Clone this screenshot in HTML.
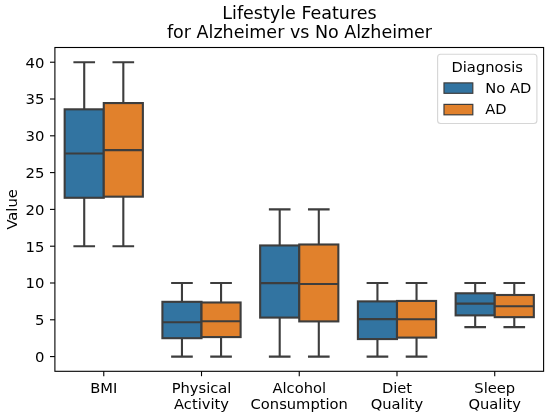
<!DOCTYPE html>
<html><head><meta charset="utf-8"><title>Lifestyle Features</title>
<style>html,body{margin:0;padding:0;background:#fff}svg{display:block}text{font-family:"DejaVu Sans","Liberation Sans",sans-serif;fill:#000}</style></head><body>
<svg xmlns="http://www.w3.org/2000/svg" width="550" height="418" viewBox="0 0 550 418">
<rect width="550" height="418" fill="#fff"/>
<g stroke="#3d3d3d" stroke-width="2.1" stroke-linecap="square" fill="none">
<rect x="64.67" y="109.32" width="39.10" height="88.46" fill="#3274a1"/>
<path d="M84.22 109.32V62.22M84.22 197.77V246.20M64.67 153.47H103.77" stroke-linecap="butt"/>
<path d="M74.45 62.22H94.00M74.45 246.20H94.00"/>
</g>
<g stroke="#3d3d3d" stroke-width="2.1" stroke-linecap="square" fill="none">
<rect x="103.77" y="103.06" width="39.10" height="93.61" fill="#e1812c"/>
<path d="M123.32 103.06V62.22M123.32 196.67V246.20M103.77 150.09H142.87" stroke-linecap="butt"/>
<path d="M113.54 62.22H133.09M113.54 246.20H133.09"/>
</g>
<g stroke="#3d3d3d" stroke-width="2.1" stroke-linecap="square" fill="none">
<rect x="162.41" y="301.83" width="39.10" height="36.35" fill="#3274a1"/>
<path d="M181.96 301.83V282.99M181.96 338.18V356.58M162.41 322.21H201.51" stroke-linecap="butt"/>
<path d="M172.19 282.99H191.74M172.19 356.58H191.74"/>
</g>
<g stroke="#3d3d3d" stroke-width="2.1" stroke-linecap="square" fill="none">
<rect x="201.51" y="302.49" width="39.10" height="34.59" fill="#e1812c"/>
<path d="M221.06 302.49V282.99M221.06 337.08V356.58M201.51 321.26H240.61" stroke-linecap="butt"/>
<path d="M211.28 282.99H230.83M211.28 356.58H230.83"/>
</g>
<g stroke="#3d3d3d" stroke-width="2.1" stroke-linecap="square" fill="none">
<rect x="260.15" y="245.46" width="39.10" height="72.12" fill="#3274a1"/>
<path d="M279.70 245.46V209.40M279.70 317.58V356.58M260.15 283.14H299.25" stroke-linecap="butt"/>
<path d="M269.93 209.40H289.48M269.93 356.58H289.48"/>
</g>
<g stroke="#3d3d3d" stroke-width="2.1" stroke-linecap="square" fill="none">
<rect x="299.25" y="244.50" width="39.10" height="76.90" fill="#e1812c"/>
<path d="M318.80 244.50V209.40M318.80 321.41V356.58M299.25 284.02H338.35" stroke-linecap="butt"/>
<path d="M309.02 209.40H328.57M309.02 356.58H328.57"/>
</g>
<g stroke="#3d3d3d" stroke-width="2.1" stroke-linecap="square" fill="none">
<rect x="357.89" y="301.39" width="39.10" height="37.68" fill="#3274a1"/>
<path d="M377.44 301.39V282.99M377.44 339.07V356.58M357.89 319.12H396.99" stroke-linecap="butt"/>
<path d="M367.67 282.99H387.22M367.67 356.58H387.22"/>
</g>
<g stroke="#3d3d3d" stroke-width="2.1" stroke-linecap="square" fill="none">
<rect x="396.99" y="300.95" width="39.10" height="36.65" fill="#e1812c"/>
<path d="M416.54 300.95V282.99M416.54 337.60V356.58M396.99 319.27H436.09" stroke-linecap="butt"/>
<path d="M406.76 282.99H426.31M406.76 356.58H426.31"/>
</g>
<g stroke="#3d3d3d" stroke-width="2.1" stroke-linecap="square" fill="none">
<rect x="455.63" y="293.29" width="39.10" height="22.08" fill="#3274a1"/>
<path d="M475.18 293.29V282.99M475.18 315.37V327.15M455.63 303.60H494.73" stroke-linecap="butt"/>
<path d="M465.41 282.99H484.96M465.41 327.15H484.96"/>
</g>
<g stroke="#3d3d3d" stroke-width="2.1" stroke-linecap="square" fill="none">
<rect x="494.73" y="294.99" width="39.10" height="22.15" fill="#e1812c"/>
<path d="M514.28 294.99V282.99M514.28 317.14V327.15M494.73 306.25H533.83" stroke-linecap="butt"/>
<path d="M504.50 282.99H524.05M504.50 327.15H524.05"/>
</g>
<rect x="54.9" y="47.5" width="488.70" height="323.80" fill="none" stroke="#000" stroke-width="1.1"/>
<path d="M54.9 356.58h-4.9" stroke="#000" stroke-width="1.1"/>
<text x="44.40" y="361.93" font-size="14.85" text-anchor="end">0</text>
<path d="M54.9 319.79h-4.9" stroke="#000" stroke-width="1.1"/>
<text x="44.40" y="325.14" font-size="14.85" text-anchor="end">5</text>
<path d="M54.9 282.99h-4.9" stroke="#000" stroke-width="1.1"/>
<text x="44.40" y="288.34" font-size="14.85" text-anchor="end">10</text>
<path d="M54.9 246.20h-4.9" stroke="#000" stroke-width="1.1"/>
<text x="44.40" y="251.55" font-size="14.85" text-anchor="end">15</text>
<path d="M54.9 209.40h-4.9" stroke="#000" stroke-width="1.1"/>
<text x="44.40" y="214.75" font-size="14.85" text-anchor="end">20</text>
<path d="M54.9 172.60h-4.9" stroke="#000" stroke-width="1.1"/>
<text x="44.40" y="177.95" font-size="14.85" text-anchor="end">25</text>
<path d="M54.9 135.81h-4.9" stroke="#000" stroke-width="1.1"/>
<text x="44.40" y="141.16" font-size="14.85" text-anchor="end">30</text>
<path d="M54.9 99.01h-4.9" stroke="#000" stroke-width="1.1"/>
<text x="44.40" y="104.36" font-size="14.85" text-anchor="end">35</text>
<path d="M54.9 62.22h-4.9" stroke="#000" stroke-width="1.1"/>
<text x="44.40" y="67.57" font-size="14.85" text-anchor="end">40</text>
<path d="M103.77 371.3v4.9" stroke="#000" stroke-width="1.1"/>
<text x="103.77" y="392.50" font-size="14.7" text-anchor="middle">BMI</text>
<path d="M201.51 371.3v4.9" stroke="#000" stroke-width="1.1"/>
<text x="201.51" y="392.50" font-size="14.7" text-anchor="middle">Physical</text>
<text x="201.51" y="408.60" font-size="14.7" text-anchor="middle">Activity</text>
<path d="M299.25 371.3v4.9" stroke="#000" stroke-width="1.1"/>
<text x="299.25" y="392.50" font-size="14.7" text-anchor="middle">Alcohol</text>
<text x="299.25" y="408.60" font-size="14.7" text-anchor="middle">Consumption</text>
<path d="M396.99 371.3v4.9" stroke="#000" stroke-width="1.1"/>
<text x="396.99" y="392.50" font-size="14.7" text-anchor="middle">Diet</text>
<text x="396.99" y="408.60" font-size="14.7" text-anchor="middle">Quality</text>
<path d="M494.73 371.3v4.9" stroke="#000" stroke-width="1.1"/>
<text x="494.73" y="392.50" font-size="14.7" text-anchor="middle">Sleep</text>
<text x="494.73" y="408.60" font-size="14.7" text-anchor="middle">Quality</text>
<text transform="translate(17.2 209.40) rotate(-90)" font-size="14.7" text-anchor="middle">Value</text>
<text x="299.50" y="18.9" font-size="17.5" text-anchor="middle">Lifestyle Features</text>
<text x="299.50" y="38.4" font-size="17.5" text-anchor="middle">for Alzheimer vs No Alzheimer</text>
<rect x="437.6" y="54.2" width="99.3" height="69.3" rx="3" ry="3" fill="#fff" fill-opacity="0.8" stroke="#ccc" stroke-opacity="0.8" stroke-width="1.1"/>
<text x="487.2" y="71.6" font-size="14.7" text-anchor="middle">Diagnosis</text>
<rect x="444" y="82.9" width="28.8" height="10.4" fill="#3274a1" stroke="#3d3d3d" stroke-width="1.2"/>
<rect x="444" y="104.4" width="28.8" height="10.4" fill="#e1812c" stroke="#3d3d3d" stroke-width="1.2"/>
<text x="485.3" y="92.6" font-size="14.7">No AD</text>
<text x="485.3" y="113.7" font-size="14.7">AD</text>
</svg></body></html>
